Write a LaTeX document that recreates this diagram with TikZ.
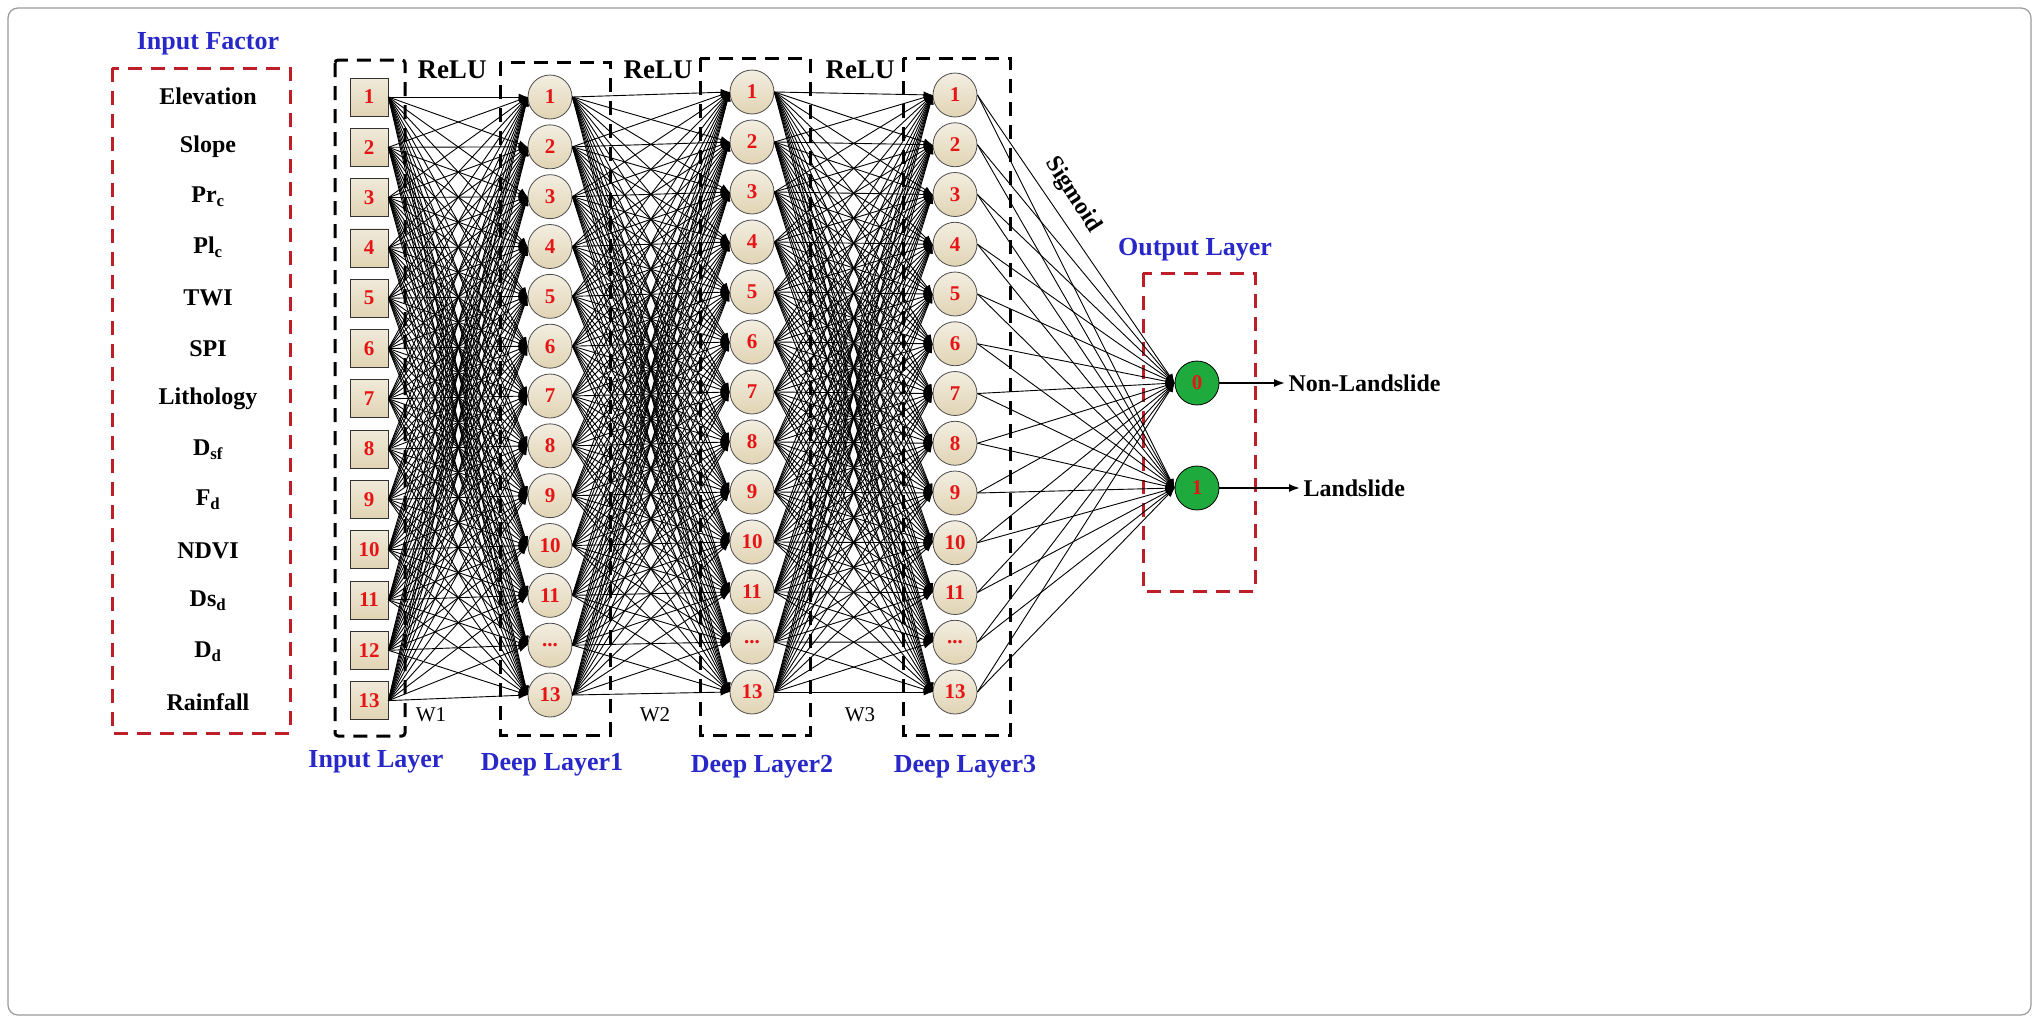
\documentclass[tikz,border=0pt]{standalone}
\usepackage{fontspec}
\setmainfont{Liberation Serif}
\usetikzlibrary{arrows.meta}
\definecolor{tblue}{RGB}{40,40,200}
\definecolor{tred}{RGB}{190,30,40}
\definecolor{nred}{RGB}{230,20,20}
\definecolor{beige}{RGB}{225,212,180}
\definecolor{gr}{RGB}{30,170,60}
\begin{document}
\begin{tikzpicture}[x=1pt,y=-1pt,
  lbl/.style={font=\fontsize{24}{26}\selectfont\bfseries},
  ttl/.style={font=\fontsize{26}{28}\selectfont\bfseries,text=tblue},
  sq/.style={draw=black!80,thick,minimum size=38pt,inner sep=0pt,top color=beige!50,bottom color=beige,font=\fontsize{21}{22}\selectfont\bfseries,text=nred},
  cir/.style={circle,draw=black!70,thick,minimum size=44pt,inner sep=0pt,top color=beige!40,bottom color=beige,font=\fontsize{21}{22}\selectfont\bfseries,text=nred},
  ocir/.style={circle,draw=black,thick,minimum size=44pt,inner sep=0pt,fill=gr,font=\fontsize{21}{22}\selectfont\bfseries,text=nred},
  blk/.style={draw=black,line width=3pt,dash pattern=on 14pt off 9pt},
  rbox/.style={draw=tred,line width=3pt,dash pattern=on 14pt off 9pt},
  conn/.style={line width=0.9pt,-{Latex[length=9pt,width=7pt]}}]
\useasboundingbox (0,0) rectangle (2039,1023);
\draw[black!40,line width=1.2pt,rounded corners=10pt] (8,8) rectangle (2031,1015);
% input factor
\draw[rbox] (112,68) rectangle (290,733);
\node[ttl] (tif) at (208,44) {Input Factor};
\foreach \t [count=\i] in {Elevation,Slope,Pr\textsubscript{c},Pl\textsubscript{c},TWI,SPI,Lithology,D\textsubscript{sf},F\textsubscript{d},NDVI,Ds\textsubscript{d},D\textsubscript{d},Rainfall}
  \node[lbl] (f\i) at (208,{96+(\i-1)*50.5}) {\t};
% boxes
\draw[blk,rounded corners=3pt] (335,60) rectangle (405,736);
\draw[blk] (500,62) rectangle (610,735);
\draw[blk] (700,58) rectangle (810,735);
\draw[blk] (903,58) rectangle (1010,735);
\draw[rbox] (1143,273) rectangle (1255,591);
% nodes
\foreach \i in {1,...,13} {
  \node[sq] (a\i) at (369,{97+(\i-1)*50.3}) {\i};
}
\foreach \L/\x/\ya/\yb in {b/550/97/695,c/752/92/692,d/955/95/692} {
  \foreach \i in {1,...,13} {
    \ifnum\i=12 \def\lab{...}\else\def\lab{\i}\fi
    \node[cir] (\L\i) at (\x,{\ya+(\i-1)*(\yb-\ya)/12}) {\lab};
  }
}
\node[ocir] (o0) at (1197,383) {0};
\node[ocir] (o1) at (1197,488) {1};
% connections
\foreach \P/\Q in {a/b,b/c,c/d} {
  \foreach \i in {1,...,13} { \foreach \j in {1,...,13} {
    \draw[conn] (\P\i.east) -- (\Q\j.west);
  }}
}
\foreach \i in {1,...,13} { \foreach \j in {0,1} {
  \draw[conn] (d\i.east) -- (o\j.west);
}}
% outputs
\coordinate (e0) at (1285,383);
\coordinate (e1) at (1300,488);
\draw[line width=2pt,-{Latex[length=11pt]}] (o0.east) -- (e0);
\draw[line width=2pt,-{Latex[length=11pt]}] (o1.east) -- (e1);
\node[lbl,anchor=west] (nl) at (e0) {Non-Landslide};
\node[lbl,anchor=west] (ll) at (e1) {Landslide};
% labels
\foreach \x in {452,658,860} \node[lbl,font=\fontsize{27}{28}\selectfont\bfseries] at (\x,70) {ReLU};
\node[font=\fontsize{21}{22}\selectfont] (w1) at (431,715) {W1};
\node[font=\fontsize{21}{22}\selectfont] (w2) at (655,715) {W2};
\node[font=\fontsize{21}{22}\selectfont] (w3) at (860,715) {W3};
\node[lbl,rotate=-57] (sig) at (1073,195) {Sigmoid};
\node[ttl] (ol) at (1195,250) {Output Layer};
\node[ttl] (il) at (376,762) {Input Layer};
\node[ttl] (d1) at (552,765) {Deep Layer1};
\node[ttl] (d2) at (762,767) {Deep Layer2};
\node[ttl] (d3) at (965,767) {Deep Layer3};
\end{tikzpicture}
\end{document}
